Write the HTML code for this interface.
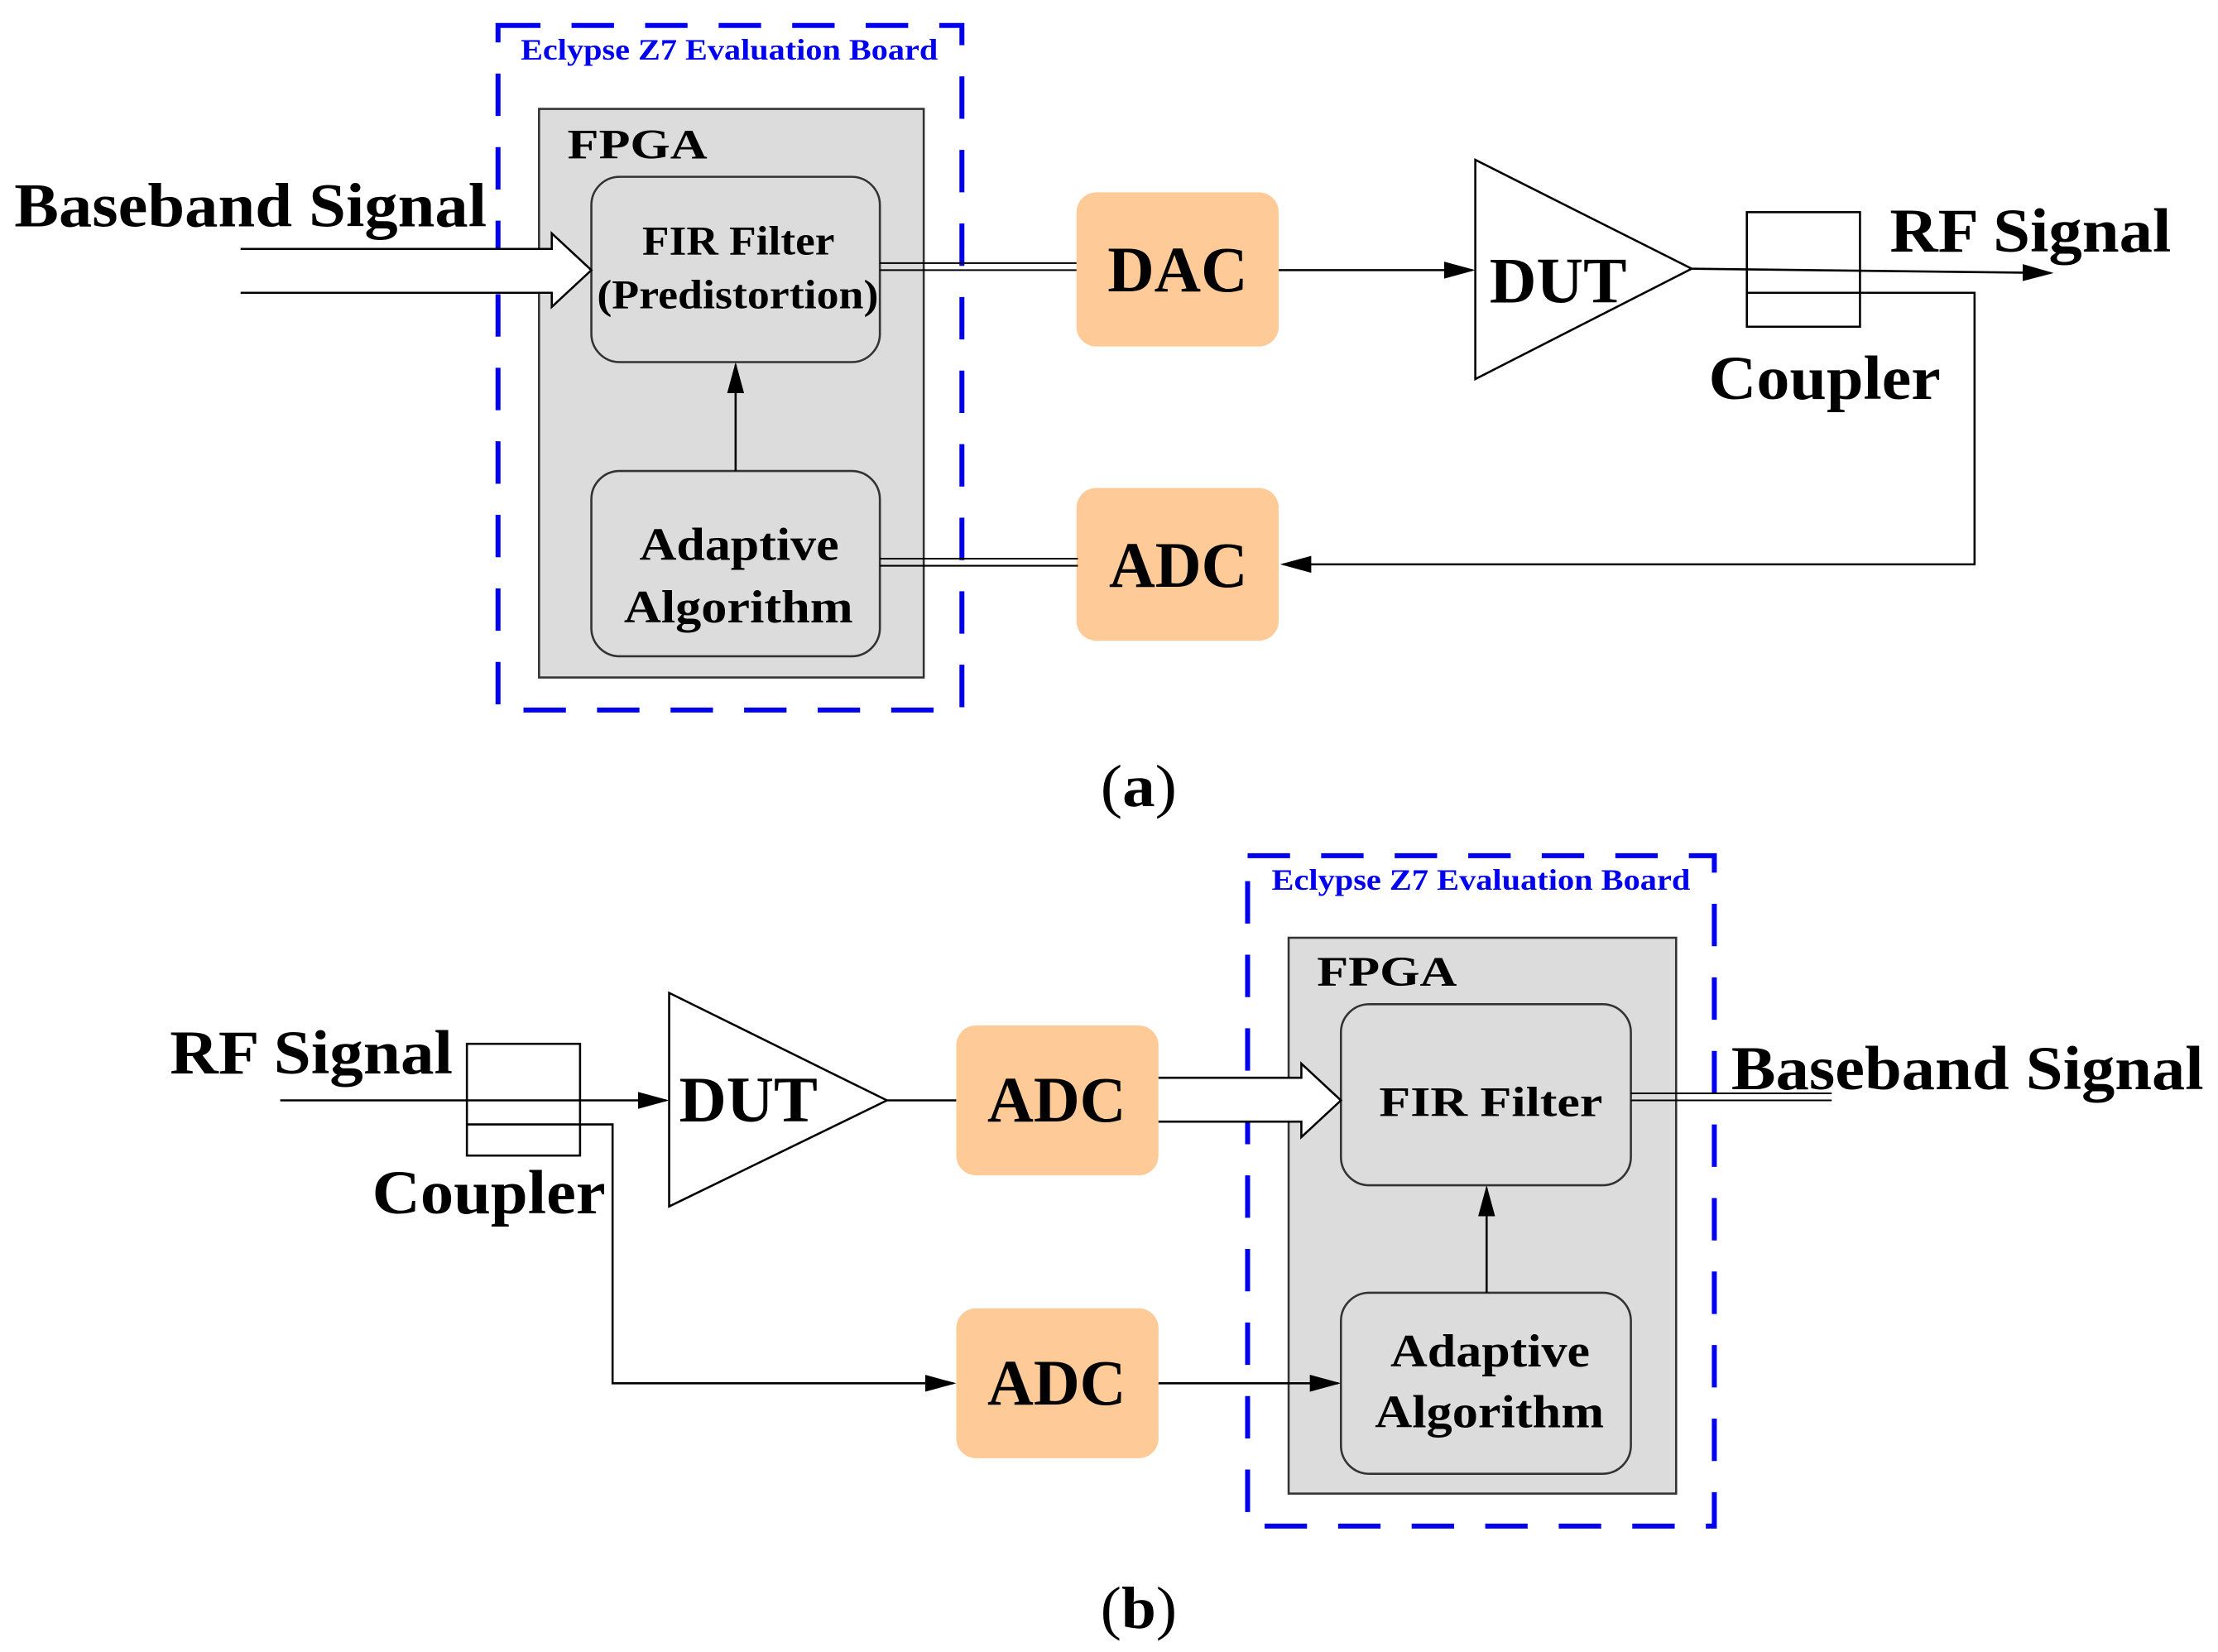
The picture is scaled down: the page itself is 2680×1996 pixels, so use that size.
<!DOCTYPE html>
<html><head><meta charset="utf-8"><style>
html,body{margin:0;padding:0;background:#fff}
svg{display:block}
text{font-family:"Liberation Serif",serif;font-weight:bold;fill:#000}
</style></head><body>
<svg width="2680" height="1996" viewBox="0 0 1568 1168" xmlns="http://www.w3.org/2000/svg">
<defs>
<marker id="ahb" markerWidth="22" markerHeight="12" refX="20" refY="6" orient="auto" markerUnits="userSpaceOnUse">
<path d="M0,0 L22,6 L0,12 Z" fill="#000"/></marker>
</defs>

<!-- ===== (a) ===== -->
<rect x="352" y="18" width="328" height="484" fill="none" stroke="#0000ee" stroke-width="3.5" stroke-dasharray="30,22"/>
<text x="368" y="42" font-size="21" style="fill:#0000ee" textLength="295" lengthAdjust="spacingAndGlyphs">Eclypse Z7 Evaluation Board</text>
<rect x="381" y="77" width="272" height="402" fill="#dcdcdc" stroke="#333" stroke-width="1.5"/>
<text x="401" y="112" font-size="30" textLength="99" lengthAdjust="spacingAndGlyphs">FPGA</text>
<rect x="418" y="125" width="204" height="131" rx="20" fill="#dcdcdc" stroke="#333" stroke-width="1.5"/>
<text x="454" y="180" font-size="29" textLength="136" lengthAdjust="spacingAndGlyphs">FIR Filter</text>
<text x="422" y="218" font-size="29" textLength="199" lengthAdjust="spacingAndGlyphs">(Predistortion)</text>
<rect x="418" y="333" width="204" height="131" rx="20" fill="#dcdcdc" stroke="#333" stroke-width="1.5"/>
<text x="452" y="396" font-size="33" textLength="141" lengthAdjust="spacingAndGlyphs">Adaptive</text>
<text x="441" y="440" font-size="33" textLength="162" lengthAdjust="spacingAndGlyphs">Algorithm</text>
<line x1="520" y1="333" x2="520" y2="258" stroke="#000" stroke-width="1.5" marker-end="url(#ahb)"/>

<text x="10" y="160" font-size="44" textLength="334" lengthAdjust="spacingAndGlyphs">Baseband Signal</text>
<path d="M170,176 L390,176 L390,165 L418,191 L390,217 L390,207 L170,207" fill="#fff" stroke="#000" stroke-width="1.5"/>

<line x1="622" y1="186" x2="762" y2="186" stroke="#000" stroke-width="1.2"/>
<line x1="622" y1="191" x2="762" y2="191" stroke="#000" stroke-width="1.2"/>
<rect x="761" y="136" width="143" height="109" rx="14" fill="#fecb98"/>
<text x="783" y="206" font-size="46" textLength="99" lengthAdjust="spacingAndGlyphs">DAC</text>
<line x1="904" y1="191" x2="1041" y2="191" stroke="#000" stroke-width="1.5" marker-end="url(#ahb)"/>
<path d="M1043,113 L1043,268 L1196,190 Z" fill="#fff" stroke="#000" stroke-width="1.5"/>
<text x="1053" y="214" font-size="46" textLength="97" lengthAdjust="spacingAndGlyphs">DUT</text>
<rect x="1235" y="150" width="80" height="81" fill="#fff" stroke="#000" stroke-width="1.5"/>
<line x1="1196" y1="190" x2="1450" y2="193" stroke="#000" stroke-width="1.5" marker-end="url(#ahb)"/>
<text x="1336" y="178" font-size="44" textLength="199" lengthAdjust="spacingAndGlyphs">RF Signal</text>
<polyline points="1235,207 1396,207 1396,399 907,399" fill="none" stroke="#000" stroke-width="1.5" marker-end="url(#ahb)"/>
<text x="1208" y="282" font-size="44" textLength="164" lengthAdjust="spacingAndGlyphs">Coupler</text>
<rect x="761" y="345" width="143" height="108" rx="14" fill="#fecb98"/>
<text x="784" y="415" font-size="46" textLength="98" lengthAdjust="spacingAndGlyphs">ADC</text>
<line x1="622" y1="395" x2="762" y2="395" stroke="#000" stroke-width="1.2"/>
<line x1="622" y1="400" x2="762" y2="400" stroke="#000" stroke-width="1.2"/>
<text x="778" y="570" font-size="42" textLength="54" lengthAdjust="spacingAndGlyphs" style="font-weight:normal">(<tspan style="font-weight:bold">a</tspan>)</text>

<!-- ===== (b) ===== -->
<rect x="882" y="605" width="330" height="474" fill="none" stroke="#0000ee" stroke-width="3.5" stroke-dasharray="30,22"/>
<text x="899" y="629" font-size="21" style="fill:#0000ee" textLength="296" lengthAdjust="spacingAndGlyphs">Eclypse Z7 Evaluation Board</text>
<rect x="911" y="663" width="274" height="393" fill="#dcdcdc" stroke="#333" stroke-width="1.5"/>
<text x="931" y="697" font-size="30" textLength="99" lengthAdjust="spacingAndGlyphs">FPGA</text>
<rect x="948" y="710" width="205" height="128" rx="20" fill="#dcdcdc" stroke="#333" stroke-width="1.5"/>
<text x="975" y="789" font-size="30" textLength="158" lengthAdjust="spacingAndGlyphs">FIR Filter</text>
<rect x="948" y="914" width="205" height="128" rx="20" fill="#dcdcdc" stroke="#333" stroke-width="1.5"/>
<text x="983" y="966" font-size="33" textLength="141" lengthAdjust="spacingAndGlyphs">Adaptive</text>
<text x="972" y="1009" font-size="33" textLength="162" lengthAdjust="spacingAndGlyphs">Algorithm</text>
<line x1="1051" y1="914" x2="1051" y2="840" stroke="#000" stroke-width="1.5" marker-end="url(#ahb)"/>

<text x="120" y="759" font-size="44" textLength="200" lengthAdjust="spacingAndGlyphs">RF Signal</text>
<rect x="330" y="738" width="80" height="79" fill="#fff" stroke="#000" stroke-width="1.5"/>
<line x1="198" y1="778" x2="471" y2="778" stroke="#000" stroke-width="1.5" marker-end="url(#ahb)"/>
<polyline points="330,795 433,795 433,978 674,978" fill="none" stroke="#000" stroke-width="1.5" marker-end="url(#ahb)"/>
<text x="263" y="858" font-size="44" textLength="165" lengthAdjust="spacingAndGlyphs">Coupler</text>
<path d="M473,702 L473,853 L627,778 Z" fill="#fff" stroke="#000" stroke-width="1.5"/>
<text x="480" y="793" font-size="46" textLength="98" lengthAdjust="spacingAndGlyphs">DUT</text>
<line x1="627" y1="778" x2="676" y2="778" stroke="#000" stroke-width="1.5"/>
<rect x="676" y="725" width="143" height="106" rx="14" fill="#fecb98"/>
<text x="698" y="793" font-size="46" textLength="98" lengthAdjust="spacingAndGlyphs">ADC</text>
<rect x="676" y="925" width="143" height="106" rx="14" fill="#fecb98"/>
<text x="698" y="993" font-size="46" textLength="98" lengthAdjust="spacingAndGlyphs">ADC</text>
<path d="M819,762 L920,762 L920,752 L948,778 L920,804 L920,793 L819,793" fill="#fff" stroke="#000" stroke-width="1.5"/>
<line x1="819" y1="978" x2="946" y2="978" stroke="#000" stroke-width="1.5" marker-end="url(#ahb)"/>
<line x1="1153" y1="773" x2="1295" y2="773" stroke="#000" stroke-width="1.2"/>
<line x1="1153" y1="778" x2="1295" y2="778" stroke="#000" stroke-width="1.2"/>
<text x="1224" y="770" font-size="44" textLength="334" lengthAdjust="spacingAndGlyphs">Baseband Signal</text>
<text x="778" y="1151" font-size="42" textLength="54" lengthAdjust="spacingAndGlyphs" style="font-weight:normal">(<tspan style="font-weight:bold">b</tspan>)</text>
</svg>
</body></html>
